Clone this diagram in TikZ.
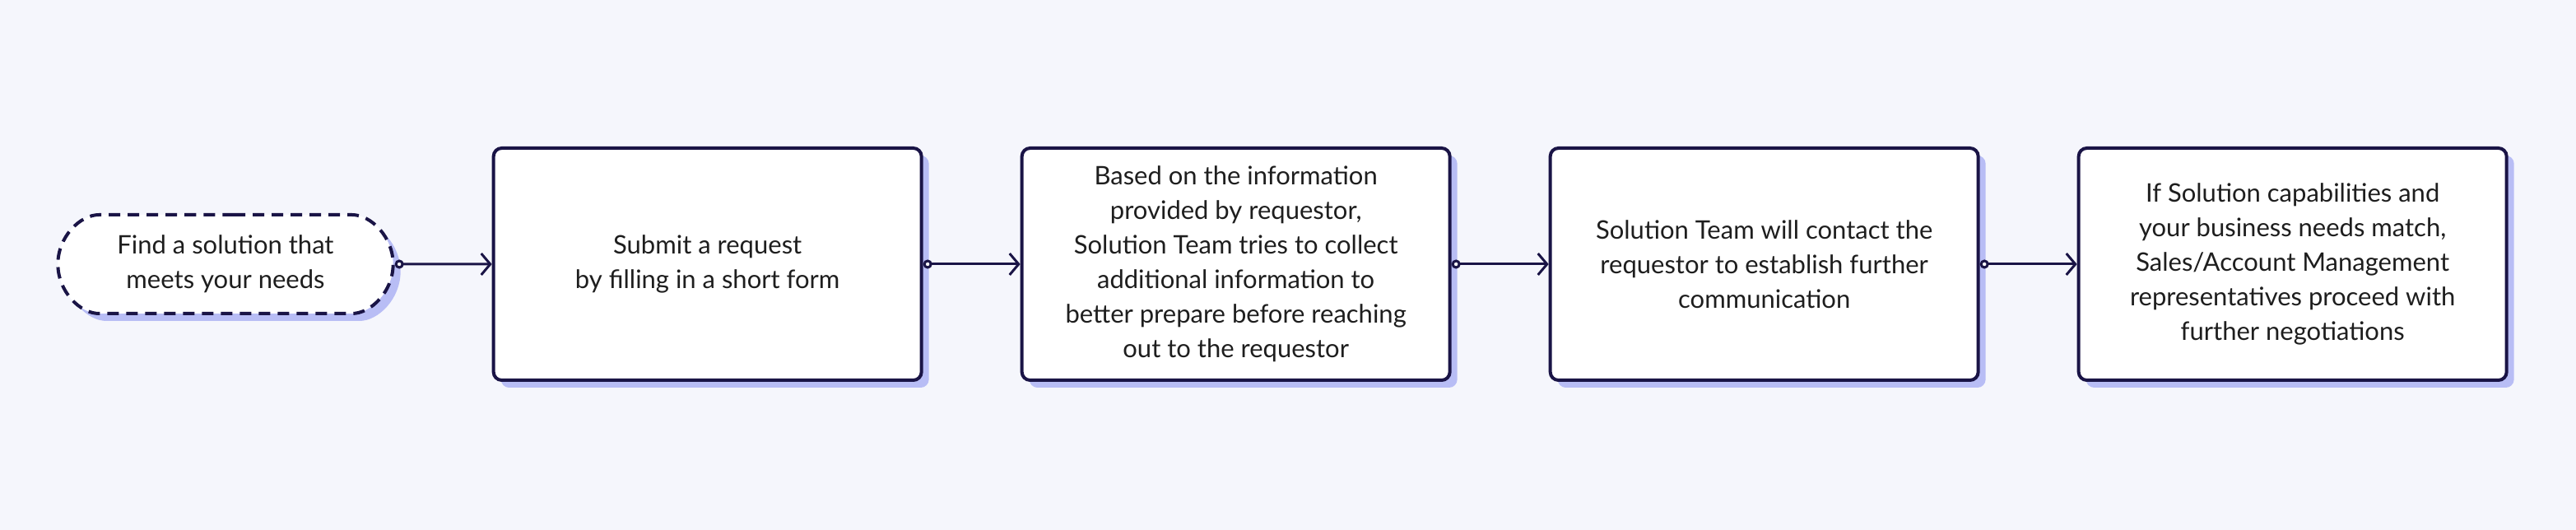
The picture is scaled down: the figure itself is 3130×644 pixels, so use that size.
\documentclass[tikz,border=0pt]{standalone}
\usepackage{fontspec}
\setmainfont{Lato}
\usetikzlibrary{positioning, arrows.meta, shadows, shapes.misc}
\definecolor{bgc}{HTML}{F5F6FC}
\definecolor{navy}{HTML}{1A1446}
\definecolor{shade}{HTML}{B8BDF5}
\definecolor{txt}{HTML}{1E1E1E}
\tikzset{
  stage/.style={draw=navy, line width=4pt, fill=white, rounded corners=10pt,
    minimum width=520pt, minimum height=282pt, align=center,
    text=txt, font=\fontsize{31}{42}\selectfont,
    drop shadow={shadow xshift=9pt, shadow yshift=-9pt, fill=shade, opacity=1}},
  start/.style={stage, rounded rectangle, dashed, dash pattern=on 14pt off 9pt,
    minimum width=414pt, minimum height=120pt},
  flow/.style={draw=navy, line width=3pt,
    {Circle[open, fill=white, length=11pt, width=11pt]}-{Straight Barb[length=11pt, width=26pt, line width=3pt]}},
}
\begin{document}
\begin{tikzpicture}[node distance=118pt]
  \fill[bgc] (0pt,0pt) rectangle (3130pt,644pt);
  \useasboundingbox (0pt,0pt) rectangle (3130pt,644pt);
  \node[start] (find) at (274pt,323pt) {Find a solution that\\meets your needs};
  \node[stage, right=of find] (submit) {Submit a request\\by filling in a short form};
  \node[stage, right=of submit] (collect) {Based on the information\\provided by requestor,\\Solution Team tries to collect\\additional information to\\better prepare before reaching\\out to the requestor};
  \node[stage, right=of collect] (contact) {Solution Team will contact the\\requestor to establish further\\communication};
  \node[stage, right=of contact] (negotiate) {If Solution capabilities and\\your business needs match,\\Sales/Account Management\\representatives proceed with\\further negotiations};
  \draw[flow] (find) -- (submit);
  \draw[flow] (submit) -- (collect);
  \draw[flow] (collect) -- (contact);
  \draw[flow] (contact) -- (negotiate);
\end{tikzpicture}
\end{document}
